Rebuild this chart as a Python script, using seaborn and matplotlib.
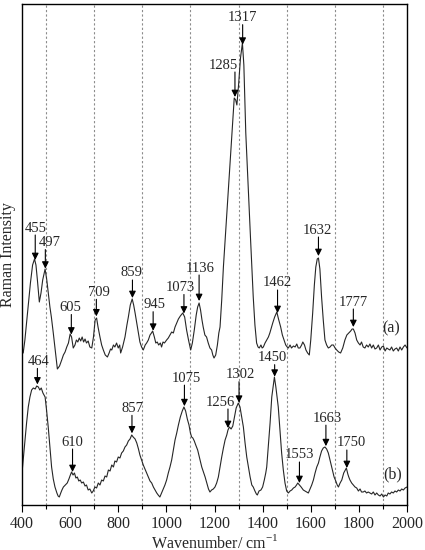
import numpy as np
import pandas as pd
import matplotlib
matplotlib.use("Agg")
import matplotlib.pyplot as plt
import seaborn as sns
from matplotlib.ticker import MultipleLocator

# ── Spectra (wavenumber / cm-1, intensity a.u.) ────────────────────────────

WN_A = [400, 405, 412, 420, 428, 435, 444, 452, 458, 464,
        472, 479, 486, 496, 503, 510, 516, 522, 530, 538,
        547, 556, 565, 572, 579, 586, 593, 600, 606, 613,
        620, 626, 632, 638, 644, 650, 656, 662, 668, 675,
        682, 690, 697, 704, 710, 716, 724, 731, 738, 746,
        755, 762, 768, 773, 780, 786, 793, 800, 806, 810,
        818, 828, 836, 842, 850, 858, 864, 870, 877, 884,
        890, 897, 904, 912, 918, 925, 932, 938, 943, 950,
        956, 962, 968, 975, 980, 986, 992, 1001, 1008, 1015,
        1022, 1029, 1036, 1043, 1050, 1058, 1068, 1076, 1084, 1092,
        1101, 1108, 1116, 1124, 1130, 1136, 1142, 1148, 1153, 1160,
        1167, 1174, 1181, 1188, 1193, 1198, 1205, 1212, 1218, 1223,
        1230, 1237, 1250, 1260, 1270, 1282, 1288, 1293, 1300, 1308,
        1316, 1322, 1330, 1338, 1345, 1350, 1355, 1361, 1368, 1375,
        1381, 1386, 1393, 1398, 1403, 1410, 1417, 1424, 1430, 1436,
        1442, 1450, 1459, 1466, 1475, 1482, 1489, 1496, 1502, 1507,
        1514, 1520, 1528, 1535, 1542, 1548, 1555, 1562, 1567, 1574,
        1580, 1587, 1594, 1600, 1608, 1615, 1621, 1627, 1632, 1638,
        1645, 1652, 1659, 1666, 1673, 1680, 1687, 1694, 1701, 1708,
        1716, 1724, 1733, 1742, 1750, 1758, 1766, 1772, 1777, 1784,
        1791, 1798, 1805, 1811, 1818, 1825, 1832, 1839, 1846, 1853,
        1860, 1867, 1874, 1881, 1888, 1895, 1902, 1909, 1916, 1922,
        1929, 1936, 1943, 1950, 1957, 1964, 1971, 1978, 1985, 1992,
        2000]
INT_A = [158, 152, 165, 185, 205, 222, 240, 246, 240, 225,
         203, 212, 225, 236, 225, 210, 198, 188, 172, 155,
         136, 139, 145, 150, 153, 158, 162, 171, 168, 157,
         160, 165, 163, 167, 164, 168, 163, 166, 162, 164,
         158, 157, 168, 185, 187, 178, 168, 160, 155, 150,
         148, 152, 156, 155, 160, 158, 162, 157, 160, 152,
         158, 168, 180, 188, 200, 206, 200, 192, 182, 172,
         163, 158, 155, 160, 162, 165, 170, 172, 174, 168,
         162, 163, 160, 162, 158, 163, 162, 165, 167, 170,
         173, 172, 178, 182, 186, 189, 192, 188, 175, 165,
         155, 162, 175, 190, 198, 202, 195, 185, 178, 170,
         168, 162, 157, 155, 150, 147, 150, 160, 172, 178,
         205, 238, 287, 324, 362, 407, 405, 400, 420, 447,
         462, 440, 372, 330, 292, 265, 238, 208, 180, 162,
         158, 157, 160, 157, 158, 162, 165, 168, 172, 177,
         182, 188, 193, 186, 178, 170, 165, 160, 158, 157,
         160, 157, 159, 158, 161, 157, 157, 160, 163, 160,
         155, 152, 150, 165, 192, 220, 238, 246, 247, 236,
         208, 185, 165, 160, 157, 158, 160, 160, 157, 155,
         153, 152, 157, 165, 170, 172, 174, 176, 176, 172,
         165, 162, 160, 163, 158, 157, 160, 158, 161, 157,
         160, 156, 157, 160, 155, 158, 159, 154, 157, 156,
         155, 158, 154, 156, 157, 154, 158, 155, 158, 160,
         157]

WN_B = [400, 406, 412, 419, 426, 433, 440, 447, 455, 461,
        468, 474, 480, 487, 496, 502, 509, 516, 523, 530,
        537, 545, 550, 555, 561, 566, 572, 580, 588, 595,
        601, 606, 612, 618, 624, 630, 636, 642, 648, 655,
        662, 668, 675, 682, 690, 696, 703, 710, 717, 724,
        731, 738, 745, 752, 759, 766, 773, 780, 786, 793,
        800, 807, 814, 821, 828, 835, 842, 849, 856, 862,
        870, 877, 884, 890, 897, 904, 911, 918, 925, 932,
        939, 946, 953, 960, 966, 973, 980, 987, 994, 1001,
        1008, 1015, 1022, 1029, 1036, 1043, 1050, 1058, 1066, 1073,
        1080, 1087, 1094, 1100, 1105, 1110, 1116, 1122, 1130, 1140,
        1147, 1154, 1161, 1168, 1175, 1181, 1188, 1195, 1202, 1209,
        1216, 1223, 1230, 1237, 1244, 1251, 1256, 1262, 1269, 1276,
        1283, 1290, 1299, 1306, 1313, 1320, 1327, 1334, 1341, 1348,
        1355, 1361, 1368, 1374, 1378, 1385, 1393, 1400, 1407, 1413,
        1417, 1424, 1431, 1438, 1449, 1455, 1460, 1465, 1472, 1479,
        1486, 1493, 1500, 1507, 1514, 1521, 1528, 1535, 1541, 1546,
        1553, 1560, 1569, 1576, 1583, 1590, 1597, 1604, 1611, 1618,
        1625, 1632, 1638, 1645, 1652, 1659, 1666, 1673, 1680, 1687,
        1693, 1697, 1704, 1710, 1715, 1722, 1729, 1737, 1748, 1754,
        1758, 1763, 1770, 1777, 1784, 1791, 1798, 1805, 1811, 1818,
        1825, 1832, 1839, 1846, 1853, 1860, 1867, 1874, 1881, 1888,
        1895, 1902, 1909, 1916, 1922, 1929, 1936, 1943, 1950, 1957,
        1964, 1971, 1978, 1985, 1992, 2000]
INT_B = [32, 48, 65, 82, 98, 108, 115, 117, 116, 119,
         118, 115, 117, 112, 108, 95, 78, 58, 38, 26,
         18, 12, 9, 8, 12, 15, 18, 20, 22, 26,
         30, 33, 30, 32, 27, 28, 24, 25, 22, 23,
         19, 20, 15, 16, 12, 14, 18, 17, 22, 20,
         25, 24, 29, 28, 35, 34, 40, 38, 44, 43,
         48, 47, 52, 54, 58, 60, 64, 66, 70, 68,
         66, 62, 56, 50, 45, 40, 36, 32, 28, 24,
         22, 18, 15, 12, 10, 8, 12, 16, 20, 25,
         32, 38, 45, 55, 65, 72, 80, 88, 94, 98,
         94, 86, 80, 72, 68, 67, 64, 60, 55, 45,
         38, 33, 28, 22, 16, 13, 15, 16, 18, 22,
         28, 38, 48, 57, 65, 70, 75, 78, 76, 79,
         88, 97, 102, 98, 88, 78, 62, 48, 38, 28,
         20, 18, 14, 11, 10, 14, 15, 18, 25, 32,
         38, 60, 82, 108, 128, 118, 108, 98, 75, 52,
         35, 22, 14, 12, 14, 15, 17, 18, 20, 22,
         20, 18, 15, 14, 13, 12, 16, 20, 25, 32,
         38, 42, 48, 54, 57, 58, 56, 52, 45, 38,
         32, 28, 24, 20, 18, 22, 25, 32, 37, 31,
         28, 25, 22, 20, 18, 17, 14, 16, 13, 13,
         14, 12, 13, 12, 11, 13, 10, 12, 10, 9,
         11, 8, 10, 9, 12, 11, 13, 12, 14, 13,
         15, 14, 16, 15, 17, 18]

# peak labels
PEAKS_A = [455, 497, 605, 709, 859, 945, 1073, 1136, 1285, 1317, 1462, 1632, 1777]
PEAKS_B = [464, 610, 857, 1075, 1256, 1302, 1450, 1553, 1663, 1750]

# ── Layout of the labels: text centre relative to arrow tip (pixels) ───────

OFFSETS_A = [(1, 32), (4, 26), (-1, 27), (3, 24), (-1, 25), (1, 26), (-4, 26),
             (1, 33), (-12, 32), (0, 27), (0, 30), (-1, 26), (0, 25)]
OFFSETS_B = [(1, 23), (0, 30), (0, 25), (2, 28), (-8, 26), (1, 28), (-2, 19),
             (0, 28), (1, 28), (5, 25)]

GRID_X = [500, 700, 900, 1100, 1300, 1500, 1700, 1900]

LINE_COLOR = "#262626"
LABEL_SIZE = 10.5


def draw_labels(ax, df, peaks, offsets):
    for p, (dx, dy) in zip(peaks, offsets):
        tip = np.interp(p, df["wn"], df["I"]) + 2
        # vertical arrow
        ax.annotate("", xy=(p, tip), xytext=(0, dy - 7),
                    textcoords="offset pixels",
                    arrowprops=dict(arrowstyle="-|>", color="black", lw=0.8,
                                    shrinkA=0, shrinkB=0, mutation_scale=10))
        ax.annotate(str(p), xy=(p, tip), xytext=(dx, dy),
                    textcoords="offset pixels", ha="center", va="center",
                    fontsize=LABEL_SIZE)


def main():
    sns.set_theme(style="ticks")
    plt.rcParams["font.family"] = ["Liberation Serif", "DejaVu Serif"]
    plt.rcParams["mathtext.fontset"] = "custom"
    plt.rcParams["mathtext.rm"] = "Liberation Serif"

    fig = plt.figure(figsize=(4.25, 5.5), dpi=100)
    ax = fig.add_axes([22 / 425, 45 / 550, 385 / 425, 501 / 550])

    for x in GRID_X:
        ax.axvline(x, color="#8c8c8c", lw=0.8, ls=(0, (2, 2)), zorder=0)

    df_a = pd.DataFrame({"wn": WN_A, "I": INT_A})
    df_b = pd.DataFrame({"wn": WN_B, "I": INT_B})
    sns.lineplot(data=df_a, x="wn", y="I", ax=ax, color=LINE_COLOR, lw=0.8,
                 estimator=None, sort=False)
    sns.lineplot(data=df_b, x="wn", y="I", ax=ax, color=LINE_COLOR, lw=0.8,
                 estimator=None, sort=False)

    draw_labels(ax, df_a, PEAKS_A, OFFSETS_A)
    draw_labels(ax, df_b, PEAKS_B, OFFSETS_B)

    ax.text(1934, 177, "(a)", fontsize=11.5, ha="center", va="center")
    ax.text(1942, 31, "(b)", fontsize=11.5, ha="center", va="center")

    ax.set_xlim(400, 2000)
    ax.set_ylim(0, 501)
    ax.xaxis.set_major_locator(MultipleLocator(200))
    ax.xaxis.set_minor_locator(MultipleLocator(100))
    ax.tick_params(axis="x", which="major", direction="out", length=5,
                   width=0.8, labelsize=11.5, pad=3, color="black")
    ax.tick_params(axis="x", which="minor", direction="out", length=3,
                   width=0.8, color="black")
    ax.set_yticks([])
    for s in ax.spines.values():
        s.set_color("black")
        s.set_linewidth(1.0)

    ax.set_xlabel("Wavenumber/ cm$^{-1}$", fontsize=11.5, labelpad=1)
    ax.set_ylabel("Raman Intensity", fontsize=11.5, labelpad=4)

    fig.savefig("out.png", dpi=100)


if __name__ == "__main__":
    main()
